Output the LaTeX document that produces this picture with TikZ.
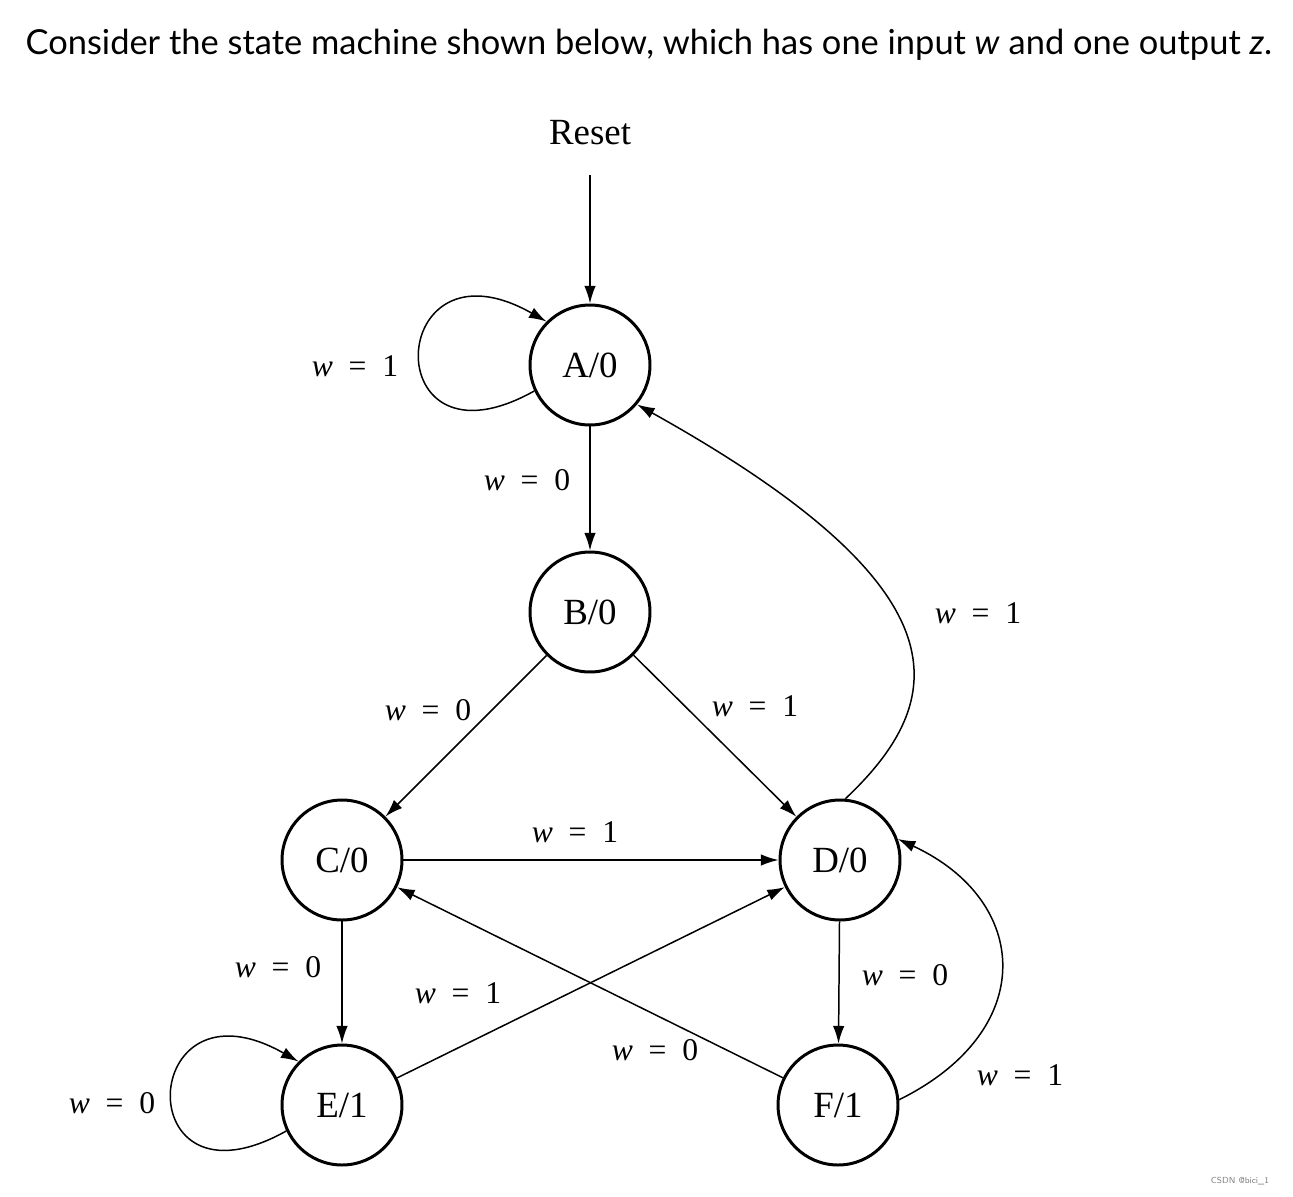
\documentclass[tikz,border=0pt]{standalone}
\usepackage{fontspec}
\setmainfont{Liberation Serif}
\newfontfamily\headfont{Lato}
\usetikzlibrary{arrows.meta}

\begin{document}
\begin{tikzpicture}[x=0.02cm, y=-0.02cm]
	\tikzset{stateStyle/.style = {shape = circle, draw, line width = 1.7pt, minimum size = 2.4cm, inner sep = 0pt, font = \fontsize{21}{23}\selectfont}}
	\tikzset{edgeStyle/.style = {-{Latex[length=10pt, width=6.5pt]}, line width = 0.85pt}}
	\tikzset{labelStyle/.style = {font = \fontsize{18}{20}\selectfont}}
	\newcommand{\wlab}[1]{\textit{w}\ \ =\ \ #1}
	\useasboundingbox (0,0) rectangle (1293,1196);
	\node[font = \headfont\fontsize{19.6}{22}\selectfont] (title) at (649,45) {Consider the state machine shown below, which has one input \textit{w} and one output \textit{z}.};
	\node[font = \fontsize{21}{23}\selectfont] (reset) at (590,133) {Reset};
	\coordinate (r0) at (590,175);
	\node[stateStyle] (A) at (590,365) {A/0};
	\node[stateStyle] (B) at (590,612) {B/0};
	\node[stateStyle] (C) at (342,860) {C/0};
	\node[stateStyle] (D) at (840,860) {D/0};
	\node[stateStyle] (E) at (342,1105) {E/1};
	\node[stateStyle] (F) at (838,1105) {F/1};
	\draw[edgeStyle] (r0) -- (A);
	\draw[edgeStyle] (A.205) .. controls (375,480) and (385,230) .. (A.135);
	\draw[edgeStyle] (A) -- (B);
	\draw[edgeStyle] (B) -- (C);
	\draw[edgeStyle] (B) -- (D);
	\draw[edgeStyle] (C) -- (D);
	\draw[edgeStyle] (D.85) .. controls (950,700) and (970,590) .. (A.-40);
	\draw[edgeStyle] (C) -- (E);
	\draw[edgeStyle] (E) -- (D);
	\draw[edgeStyle] (F) -- (C);
	\draw[edgeStyle] (D) -- (F);
	\draw[edgeStyle] (F.5) .. controls (1040,1030) and (1030,900) .. (D.20);
	\draw[edgeStyle] (E.205) .. controls (127,1220) and (137,970) .. (E.135);
	\node[labelStyle] (lAA) at (355,366) {\wlab{1}};
	\node[labelStyle] (lAB) at (527,480) {\wlab{0}};
	\node[labelStyle] (lBC) at (428,710) {\wlab{0}};
	\node[labelStyle] (lBD) at (755,706) {\wlab{1}};
	\node[labelStyle] (lCD) at (575,832) {\wlab{1}};
	\node[labelStyle] (lDA) at (978,613) {\wlab{1}};
	\node[labelStyle] (lCE) at (278,967) {\wlab{0}};
	\node[labelStyle] (lED) at (458,993) {\wlab{1}};
	\node[labelStyle] (lFC) at (655,1050) {\wlab{0}};
	\node[labelStyle] (lDF) at (905,975) {\wlab{0}};
	\node[labelStyle] (lFD) at (1020,1075) {\wlab{1}};
	\node[labelStyle] (lEE) at (112,1103) {\wlab{0}};
	\node[font = \sffamily\tiny, text = gray] (mark) at (1240,1181) {CSDN @bici\_1};
\end{tikzpicture}
\end{document}
